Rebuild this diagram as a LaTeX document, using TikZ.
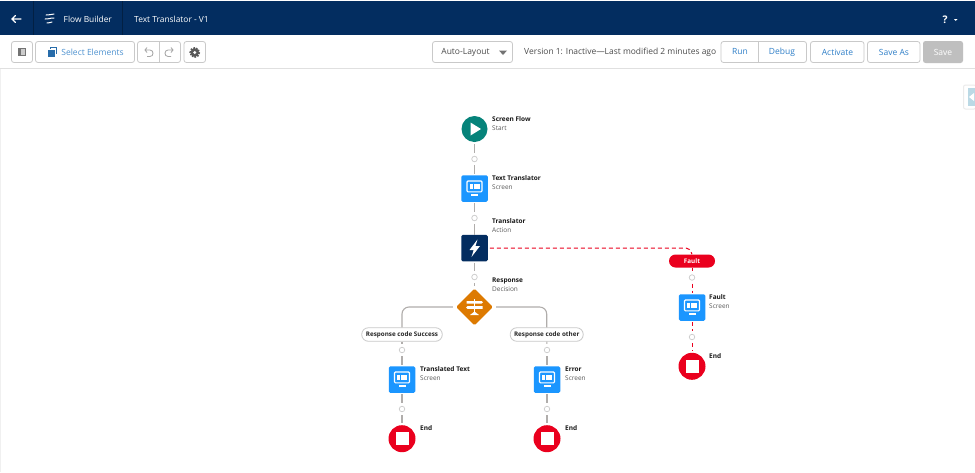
\documentclass[tikz,border=0pt]{standalone}
\usepackage{fontspec}
\setmainfont{Open Sans}
\usetikzlibrary{shapes.geometric}
\definecolor{navy}{HTML}{032D60}
\definecolor{teal}{HTML}{06837A}
\definecolor{sfblue}{HTML}{1B96FF}
\definecolor{actblue}{HTML}{032D60}
\definecolor{orng}{HTML}{DD7A01}
\definecolor{endred}{HTML}{EA001E}
\definecolor{btnline}{HTML}{C9C9C9}
\definecolor{linkblue}{HTML}{2F7FC8}
\definecolor{conn}{HTML}{B0ADAB}
\tikzset{
  x=1pt,y=-1pt,
  btn/.style={draw=btnline,line width=.8pt,fill=white,rounded corners=2.5pt},
  btntext/.style={inner sep=0,font=\fontsize{8.5}{11}\selectfont,text=linkblue,anchor=center},
  hdrtext/.style={inner sep=0,font=\fontsize{8.4}{10}\selectfont,text=white,anchor=west},
  start/.style={circle,fill=teal,minimum size=26pt,inner sep=0},
  scr/.style={rectangle,rounded corners=1.5pt,fill=sfblue,minimum size=26.5pt,inner sep=0},
  act/.style={rectangle,rounded corners=1.5pt,fill=actblue,minimum size=26.5pt,inner sep=0},
  deci/.style={diamond,aspect=1,fill=orng,minimum size=37pt,inner sep=0,rounded corners=1.5pt},
  stopn/.style={circle,fill=endred,minimum size=27pt,inner sep=0},
  dot/.style={circle,draw=btnline,fill=white,line width=.7pt,minimum size=5.5pt,inner sep=0},
  pill/.style={rectangle,rounded corners=6.5pt,draw=btnline,fill=white,line width=.8pt,minimum height=13.5pt,inner sep=0,font=\fontsize{6.3}{8}\bfseries\selectfont,text=black!85},
  faultpill/.style={rectangle,rounded corners=6.5pt,fill=endred,minimum height=13pt,minimum width=46pt,inner sep=0,font=\fontsize{6.3}{8}\bfseries\selectfont,text=white},
  lbl/.style={inner sep=0,anchor=north west,align=left,font=\fontsize{6.5}{9}\selectfont,text=black!65},
  link/.style={draw=conn,line width=1.1pt},
  faultlink/.style={draw=endred,line width=1pt,dash pattern=on 4pt off 3pt},
}
\newcommand{\lbltxt}[2]{{\bfseries\color{black!90}#1}\\#2}
\newcommand{\screenglyph}[1]{\begin{scope}[shift={(#1)}]
  \draw[white,line width=1.1pt,rounded corners=1pt] (-7.5,-7.5) rectangle (7.5,3.3);
  \fill[white] (-5,-5) rectangle (-2,.8);
  \fill[white] (-.6,-5) rectangle (5,.8);
  \fill[white] (-3.5,5.5) rectangle (3.5,7);
\end{scope}}
\newcommand{\stopglyph}[1]{\fill[white,shift={(#1)}] (-6.5,-6.5) rectangle (6.5,6.5);}
\begin{document}
\begin{tikzpicture}
\useasboundingbox (0,0) rectangle (975,472);
\fill[white] (0,0) rectangle (975,472);
% header
\fill[navy] (0,1) rectangle (975,35);
\draw[black!30!navy,line width=.5pt] (33.5,1) -- (33.5,35) (122.5,1) -- (122.5,35);
\draw[white,line width=1.2pt,line cap=round] (12,19) -- (21,19) (15.5,15.5) -- (12,19) -- (15.5,22.5);
\draw[white,line width=1pt,line cap=round] (46,15) .. controls (49,16) and (51,13.5) .. (54,14)
  (45,19) .. controls (48,20) and (50,17.5) .. (54,18)
  (47,23) .. controls (49,24) and (50,21.5) .. (52,22);
\node[hdrtext] (fb) at (63.5,19) {Flow Builder};
\node[hdrtext] (tt) at (134,19) {Text Translator - V1};
\node[inner sep=0,font=\fontsize{10.5}{12}\bfseries\selectfont,text=white] (help) at (945,19.5) {?};
\fill[white] (954,19) -- (957.5,19) -- (955.75,21) -- cycle;
% toolbar
\draw[draw=black!12,line width=1pt] (0,68.5) -- (975,68.5);
\fill[black!6] (0,69) rectangle (1,472);
\draw[btn] (11.5,41.5) rectangle (32.5,62.5);
\draw[black!55,fill=black!20,line width=.6pt] (18.5,48.5) rectangle (25.5,55.5);
\fill[black!55] (18.5,48.5) rectangle (21,55.5);
\draw[btn] (35.5,41.5) rectangle (134.5,62.5);
\fill[linkblue!85!black] (48,49.5) rectangle (55,56.5);
\draw[linkblue!85!black,line width=.8pt] (50,48.5) -- (50,47.5) -- (56,47.5) -- (56,54);
\node[btntext,text=linkblue!85] (sel) at (92.5,52) {Select Elements};
\draw[btn] (137.5,41.5) rectangle (180.5,62.5);
\draw[btnline,line width=.8pt] (159,41.5) -- (159,62.5);
\draw[black!35,line width=.8pt] (147,47.5) -- (145,50) -- (147,52.5) (145,50) -- (150,50) .. controls (154,50) and (154,56.5) .. (150,56.5) -- (147,56.5);
\draw[black!35,line width=.8pt] (171,47.5) -- (173,50) -- (171,52.5) (173,50) -- (168,50) .. controls (164,50) and (164,56.5) .. (168,56.5) -- (171,56.5);
\draw[btn] (184,41.5) rectangle (205.5,62.5);
\fill[black!65] (194.75,52.5) circle (4.3);
\draw[black!65,line width=1.6pt,dash pattern=on 1.6pt off 1.2pt] (194.75,52.5) circle (4.6);
\fill[white] (194.75,52.5) circle (1.6);
\draw[btn] (432.5,41.5) rectangle (512.5,62.5);
\node[btntext,text=black!70] (al) at (465.5,52) {Auto-Layout};
\fill[black!55] (499,50.5) -- (507,50.5) -- (503,55) -- cycle;
\node[inner sep=0,anchor=west,font=\fontsize{8.45}{11}\selectfont,text=black!70] (ver) at (524,52) {Version 1: Inactive—Last modified 2 minutes ago};
\draw[btn] (721,41.5) rectangle (806.5,62.5);
\draw[btnline,line width=.8pt] (758,41.5) -- (758,62.5);
\node[btntext] (run) at (740,52) {Run};
\node[btntext] (debug) at (782,52) {Debug};
\draw[btn] (810.5,41.5) rectangle (864,62.5);
\node[btntext] (activate) at (837.5,52) {Activate};
\draw[btn] (867.5,41.5) rectangle (920,62.5);
\node[btntext] (saveas) at (894,52) {Save As};
\fill[black!25,rounded corners=2.5pt] (923,41) rectangle (963,63);
\node[btntext,text=white] (save) at (943,52) {Save};
% side tab
\draw[black!8,fill=white,line width=1pt,rounded corners=2pt] (963.5,85) rectangle (976,109);
\fill[black!35!cyan!30!white] (967.5,88) rectangle (975,106);
\fill[white] (969,97) -- (974,93) -- (974,101) -- cycle;
% flow nodes
\node[start] (n1) at (474.5,129) {};
\fill[white] (470.5,122.5) -- (481,129) -- (470.5,135.5) -- cycle;
\node[dot] (d1) at (474.5,159) {};
\node[scr] (n2) at (474.5,188.5) {};
\screenglyph{n2}
\node[dot] (d2) at (474.5,218) {};
\node[act] (n3) at (474.5,248) {};
\fill[white] (477.5,239.5) -- (469.5,250) -- (473.7,250) -- (471.5,257) -- (480,246) -- (475.5,246) -- cycle;
\node[dot] (d3) at (474.5,277) {};
\node[deci] (n4) at (474.5,307) {};
\begin{scope}[shift={(n4)}]
  \fill[white] (-8,-6) -- (7,-6) -- (8.5,-4.7) -- (7,-3.4) -- (-8,-3.4) -- cycle;
  \fill[white] (8,-.8) -- (-7,-.8) -- (-8.5,.5) -- (-7,1.8) -- (8,1.8) -- cycle;
  \fill[white] (-.8,-8) rectangle (.8,6);
  \fill[white] (-4.5,8) -- (0,4.5) -- (4.5,8) -- cycle;
\end{scope}
\node[pill,minimum width=80.5pt] (p1) at (402,334.5) {Response code Success};
\node[pill,minimum width=73pt] (p2) at (546.7,334.5) {Response code other};
\node[dot] (d4) at (402,350) {};
\node[dot] (d5) at (547,350) {};
\node[scr] (n5) at (402,379.5) {};
\screenglyph{n5}
\node[scr] (n6) at (547,379.5) {};
\screenglyph{n6}
\node[dot] (d6) at (402,409) {};
\node[dot] (d7) at (547,409) {};
\node[stopn] (e1) at (402,438.7) {};
\stopglyph{e1}
\node[stopn] (e2) at (547,438.7) {};
\stopglyph{e2}
\node[faultpill] (fp) at (692,261) {Fault};
\node[dot] (d8) at (692,277.5) {};
\node[scr] (n7) at (692,307.5) {};
\screenglyph{n7}
\node[dot] (d9) at (692,337) {};
\node[stopn] (e3) at (692,366.3) {};
\stopglyph{e3}
% connectors
\draw[link,shorten <=2pt,shorten >=3pt] (n1) -- (d1);
\draw[link,shorten <=3pt,shorten >=1.5pt] (d1) -- (n2);
\draw[link,shorten <=1.5pt,shorten >=3pt] (n2) -- (d2);
\draw[link,shorten <=3pt,shorten >=0pt] (d2) -- (n3);
\draw[link,shorten <=1.5pt,shorten >=3pt] (n3) -- (d3);
\draw[link,shorten <=3pt,shorten >=2pt] (d3) -- (n4);
\draw[link,shorten <=3pt,rounded corners=7pt] (n4.west) -| (p1.north);
\draw[link,shorten <=3pt,rounded corners=7pt] (n4.east) -| (p2.north);
\draw[link,shorten >=3pt] (p1) -- (d4);
\draw[link,shorten >=3pt] (p2) -- (d5);
\draw[link,shorten <=3pt,shorten >=1.5pt] (d4) -- (n5);
\draw[link,shorten <=3pt,shorten >=1.5pt] (d5) -- (n6);
\draw[link,shorten <=1.5pt,shorten >=3pt] (n5) -- (d6);
\draw[link,shorten <=1.5pt,shorten >=3pt] (n6) -- (d7);
\draw[link,shorten <=3pt,shorten >=2pt] (d6) -- (e1);
\draw[link,shorten <=3pt,shorten >=2pt] (d7) -- (e2);
\coordinate (fc) at (686,248);
\draw[faultlink,shorten <=2pt] (n3.east) -- (fc) .. controls (689,248) and (690.5,250) .. (fp.north);
\draw[faultlink,shorten >=3pt] (fp) -- (d8);
\draw[faultlink,shorten <=3pt,shorten >=1.5pt] (d8) -- (n7);
\draw[faultlink,shorten <=1.5pt,shorten >=3pt] (n7) -- (d9);
\draw[faultlink,shorten <=3pt,shorten >=2pt] (d9) -- (e3);
% labels
\node[lbl] (l1) at (492,116.5) {\lbltxt{Screen Flow}{Start}};
\node[lbl] (l2) at (492,175.5) {\lbltxt{Text Translator}{Screen}};
\node[lbl] (l3) at (492,218.5) {\lbltxt{Translator}{Action}};
\node[lbl] (l4) at (492,278) {\lbltxt{Response}{Decision}};
\node[lbl] (l5) at (420,366.5) {\lbltxt{Translated Text}{Screen}};
\node[lbl] (l6) at (565,366.5) {\lbltxt{Error}{Screen}};
\node[lbl] (l7) at (420,425.5) {\lbltxt{End}{}};
\node[lbl] (l8) at (565,425.5) {\lbltxt{End}{}};
\node[lbl] (l9) at (709,294.5) {\lbltxt{Fault}{Screen}};
\node[lbl] (l10) at (709,353.5) {\lbltxt{End}{}};
\end{tikzpicture}
\end{document}
